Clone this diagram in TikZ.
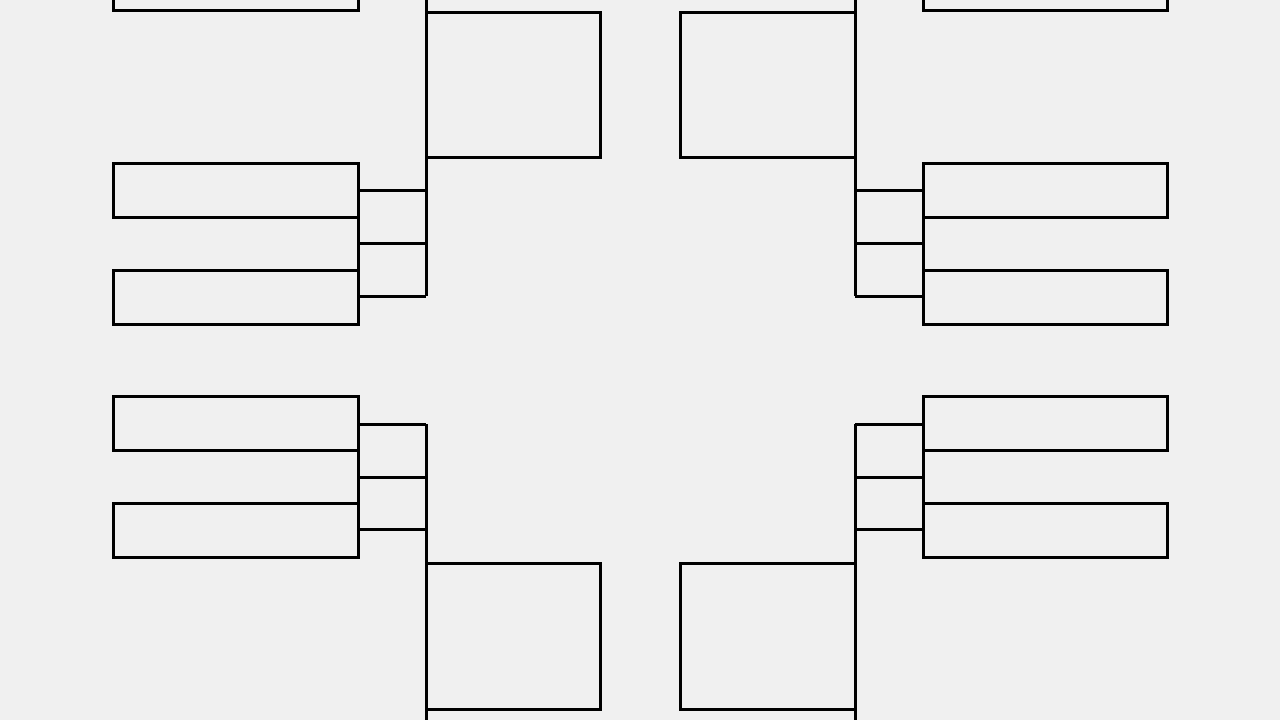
\documentclass[tikz,border=0pt]{standalone}
\begin{document}
\begin{tikzpicture}[x=1pt,y=-1pt,line width=3pt]
\fill[gray!12] (0,0) rectangle (1280,720);
\useasboundingbox (0,0) rectangle (1280,720);
\begin{scope}
\clip (0,0) rectangle (1280,720);
\foreach \y in {-44,163,270,396,503}{\draw (113,\y) rectangle (358,\y+54);}
\foreach \y in {-44,163,270,396,503}{\draw (923,\y) rectangle (1167,\y+54);}
% left top connectors
\draw (358,190) -- (426,190) (358,243) -- (426,243) (358,296) -- (426,296);
\draw (358,190) -- (358,296);
\draw (426,-5) -- (426,296);
\draw (426,12) rectangle (600,157);
% left bottom
\draw (358,424) -- (426,424) (358,477) -- (426,477) (358,529) -- (426,529);
\draw (358,424) -- (358,529);
\draw (426,424) -- (426,725);
\draw (426,563) rectangle (600,709);
% right top
\draw (855,190) -- (923,190) (855,243) -- (923,243) (855,296) -- (923,296);
\draw (923,190) -- (923,296);
\draw (855,-5) -- (855,296);
\draw (680,12) rectangle (855,157);
% right bottom
\draw (855,424) -- (923,424) (855,477) -- (923,477) (855,529) -- (923,529);
\draw (923,424) -- (923,529);
\draw (855,424) -- (855,725);
\draw (680,563) rectangle (855,709);
\end{scope}
\end{tikzpicture}
\end{document}
